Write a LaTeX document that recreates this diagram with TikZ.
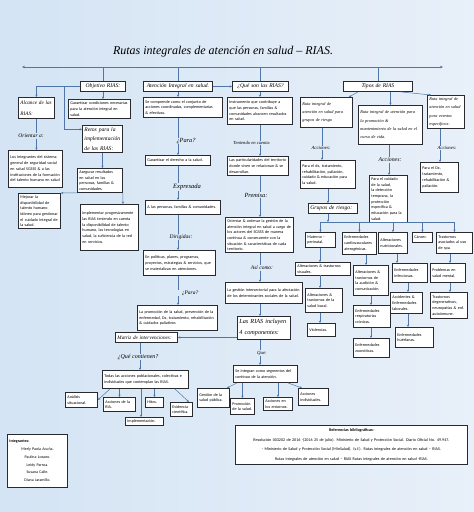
\documentclass[tikz,border=0pt]{standalone}
\usepackage{fontspec}
\setmainfont{Liberation Serif}
\newfontfamily\cuerpo{Carlito}
\usetikzlibrary{arrows.meta}

\hyphenpenalty=10000
\exhyphenpenalty=10000
\hbadness=10000

\definecolor{azul}{RGB}{79,118,168}
\definecolor{borde}{RGB}{40,42,48}
\definecolor{fondoA}{RGB}{212,228,244}
\definecolor{fondoB}{RGB}{232,240,249}

\tikzset{
  caja/.style 2 args={draw=borde, line width=0.9pt, fill=white, anchor=north west,
    inner sep=2pt, text width=#1pt, minimum height=#2pt, align=left,
    font=\cuerpo\fontsize{4.1}{5.7}\selectfont},
  titulo/.style 2 args={caja={#1}{#2}, font=\itshape\fontsize{5.6}{6.6}\selectfont},
  ruta/.style 2 args={caja={#1}{#2}, font=\itshape\fontsize{4.3}{8.3}\selectfont},
  etiqueta/.style={inner sep=0.5pt, font=\itshape\fontsize{5.5}{6.5}\selectfont},
  linea/.style={draw=azul, line width=0.5pt},
  flecha/.style={linea, -{Stealth[length=2.4pt, width=2.2pt]}},
}

\begin{document}
\begin{tikzpicture}[x=1pt, y=-1pt]
  \shade[left color=fondoA, middle color=white, right color=fondoB] (0,0) rectangle (474,512);
  \useasboundingbox (0,0) rectangle (474,512);

  \node[font=\itshape\fontsize{12}{14}\selectfont] (titulo) at (223,52) {Rutas integrales de atención en salud – RIAS.};

  \coordinate (izq) at (22,67);
  \coordinate (der) at (443,67);
  \draw[linea, line width=0.8pt, {Stealth[length=3pt, width=2.6pt]}-{Stealth[length=3pt, width=2.6pt]}] (izq) -- (der);

  \node[titulo={41}{10}, align=center] (obj) at (80,81) {Objetivo RIAS:};
  \node[titulo={65}{10}, align=center] (aten) at (143,81) {Atención Integral en salud.};
  \node[titulo={52}{10}, align=center] (que) at (232,81) {¿Qué son las RIAS?};
  \node[titulo={65}{10}, align=center] (tipos) at (343,81) {Tipos de RIAS};

  \foreach \n in {obj, aten, que, tipos} {
    \draw[linea] (\n.north |- izq) -- (\n.north);
  }

  \node[titulo={32}{21}, font=\itshape\fontsize{5.2}{11}\selectfont] (alcance) at (18,97) {Alcance de las\\ RIAS:};
  \node[caja={58}{19}] (garant) at (68,99) {Garantizar condiciones necesarias para la atención integral en salud.};
  \node[titulo={36}{27}, font=\itshape\fontsize{5.6}{9.5}\selectfont] (retos) at (82,125) {Retos para la\\ implementación\\ de las RIAS:};
  \node[etiqueta] (orient) at (31,136) {Orientar a:};
  \node[caja={50}{37}] (integr) at (8,150) {Los integrantes del sistema general de seguridad social en salud SGSSS \& a las instituciones de la formación del talento humano en salud};
  \node[caja={41}{19}] (asegurar) at (77,168) {Asegurar resultados en salud en las personas, familias \& comunidades.};
  \node[caja={38}{32}] (mejorar) at (18,193) {Mejorar la disponibilidad de talento humano idóneo para gestionar el cuidado integral de la salud.};
  \node[caja={54}{46}] (implementar) at (80,204) {Implementar progresivamente las RIAS teniendo en cuenta la disponibilidad de talento humano, las tecnologías en salud, la suficiencia de la red en servicios.};

  \coordinate (codo) at (64,86);
  \draw[flecha] (obj.west) -| (alcance.north);
  \draw[flecha] (codo) |- (retos.155);
  \draw[flecha] (obj) -- (obj |- garant.north);
  \draw[linea] (alcance.south) -- (orient.north -| alcance.south);
  \draw[flecha] (orient.south -| alcance) -- (integr.north -| alcance);
  \draw[flecha] (retos) -- (retos |- asegurar.north);
  \draw[flecha] (asegurar.south west) -- (mejorar.north east);
  \draw[flecha] (asegurar.south east) -- (implementar.60);

  \node[caja={75}{20}] (secomp) at (143,97) {Se comprende como el conjunto de acciones coordinadas, complementarias \& efectivas.};
  \node[etiqueta, font=\itshape\fontsize{6.3}{7}\selectfont] (para1) at (186,141) {¿Para?};
  \node[caja={61}{10}] (derecho) at (145,155) {Garantizar el derecho a la salud.};
  \node[etiqueta, font=\itshape\fontsize{6.5}{7}\selectfont] (expresada) at (187,187) {Expresada};
  \node[caja={71}{14}] (personas) at (145,200) {A las personas, familias \& comunidades.};
  \node[etiqueta] (dirigidas) at (181,237) {Dirigidas:};
  \node[caja={68}{25}] (politicas) at (143,250) {En políticas, planes, programas, proyectos, estrategias \& servicios, que se materializan en atenciones.};
  \node[etiqueta] (para2) at (190,293) {¿Para?};
  \node[caja={76}{25}] (promo) at (137,305) {La promoción de la salud, prevención de la enfermedad, Dx, tratamiento, rehabilitación \& cuidados paliativos};
  \node[titulo={58}{10}, font=\itshape\fontsize{5.2}{6.5}\selectfont] (matriz) at (115,332) {Matriz de intervenciones:};
  \node[etiqueta, font=\itshape\fontsize{6}{7}\selectfont] (contienen) at (138,357) {¿Qué contienen?};
  \node[caja={82}{18}] (todas) at (102,370) {Todas las acciones poblacionales, colectivas e individuales que contemplan las RIAS.};
  \node[caja={28}{15}] (analisis) at (65,392) {Análisis situacional.};
  \node[caja={28}{14}] (accrias) at (103,397) {Acciones de la RIA.};
  \node[caja={14}{10}] (hitos) at (145,397) {Hitos.};
  \node[caja={34}{8}] (implem) at (125,417) {Implementación.};
  \node[caja={18}{14}] (evidencia) at (170,402) {Evidencia científica.};

  \coordinate (ejeA) at (178,0);
  \coordinate (ejeC) at (140,0);
  \coordinate (ejeD) at (141,0);
  \draw[flecha] (aten.south -| ejeA) -- (secomp.north -| ejeA);
  \foreach \a/\b in {secomp/para1, derecho/expresada, personas/dirigidas, politicas/para2} {
    \draw[linea] (\a.south -| ejeA) -- (\b.north -| ejeA);
  }
  \foreach \a/\b in {para1/derecho, expresada/personas, dirigidas/politicas, para2/promo} {
    \draw[flecha] (\a.south -| ejeA) -- (\b.north -| ejeA);
  }
  \draw[linea] (matriz.south -| ejeC) -- (contienen.north -| ejeC);
  \draw[flecha] (contienen.south -| ejeC) -- (todas.north -| ejeC);
  \draw[flecha] ([xshift=8pt]todas.south west) -- (analisis.east);
  \draw[flecha] (todas.south -| accrias) -- (accrias.north);
  \draw[flecha] (todas.south -| hitos) -- (hitos.north);
  \draw[flecha] (todas.south -| ejeD) -- (implem.north -| ejeD);
  \draw[flecha] ([xshift=-14pt]todas.south east) -- ([xshift=-4pt]evidencia.north east);

  \node[caja={61}{27}] (instrum) at (227,97) {Instrumento que contribuye a que las personas, familias \& comunidades alcancen resultados en salud.};
  \node[etiqueta, font=\itshape\fontsize{4.6}{5.5}\selectfont] (teniendo) at (252,143) {Teniendo en cuenta:};
  \node[caja={57}{19}] (particul) at (227,156) {Las particularidades del territorio donde viven se relacionan \& se desarrollan.};
  \node[etiqueta, font=\itshape\fontsize{6.3}{7}\selectfont] (premisa) at (256,195) {Premisa:};
  \node[caja={64}{34}] (orientarord) at (225,217) {Orientar \& ordenar la gestión de la atención integral en salud a cargo de los actores del SGSSS de manera continua \& consecuente con la situación \& características de cada territorio.};
  \node[etiqueta] (asicomo) at (262,268) {Así como:};
  \node[caja={73}{21}] (gestionint) at (225,282) {La gestión intersectorial para la afectación de los determinantes sociales de la salud.};
  \node[titulo={49}{23}, font=\itshape\fontsize{6.2}{11}\selectfont] (incluyen) at (237,316) {Las RIAS incluyen\\ 4 componentes:};
  \node[etiqueta, font=\itshape\fontsize{4.8}{6}\selectfont] (quelab) at (262,353) {Que:};
  \node[caja={60}{17}] (integran) at (233,365) {Se integran como segmentos del continuo de la atención.};
  \node[caja={28}{19}] (gestsp) at (197,388) {Gestión de la salud pública.};
  \node[caja={20}{16}] (promsal) at (230,398) {Promoción de la salud.};
  \node[caja={25}{13}] (entornos) at (263,397) {Acciones en los entornos.};
  \node[caja={26}{17}] (individ) at (298,388) {Acciones individuales.};

  \coordinate (ejeB) at (260,0);
  \draw[flecha] (aten) -- (que);
  \foreach \a/\b in {instrum/teniendo, particul/premisa, orientarord/asicomo, incluyen/quelab} {
    \draw[linea] (\a.south -| ejeB) -- (\b.north -| ejeB);
  }
  \foreach \a/\b in {que/instrum, teniendo/particul, premisa/orientarord, asicomo/gestionint, gestionint/incluyen, quelab/integran} {
    \draw[flecha] (\a.south -| ejeB) -- (\b.north -| ejeB);
  }
  \draw[flecha] (incluyen.west |- matriz.east) -- (matriz.east);
  \draw[flecha] ([xshift=4pt]integran.south west) -- ([xshift=-3pt]gestsp.north east);
  \draw[flecha] (integran.south -| promsal) -- (promsal.north);
  \draw[flecha] (integran.south -| entornos) -- (entornos.north);
  \draw[flecha] ([xshift=-10pt]integran.south east) -- ([xshift=4pt]individ.north west);

  \node[ruta={48}{30}] (rgr) at (300,97) {Ruta integral de\\ atención en salud para\\ grupos de riesgo};
  \node[ruta={60}{39}] (rpm) at (358,105) {Ruta integral de atención para\\ la promoción \&\\ mantenimiento de la salud en el\\ curso de vida.};
  \node[ruta={33}{33}] (rev) at (427,95) {Ruta integral de\\ atención en salud\\ para eventos\\ específicos:};
  \node[etiqueta, font=\itshape\fontsize{4.8}{6}\selectfont] (acc1) at (321,148) {Acciones:};
  \node[etiqueta, font=\itshape\fontsize{5.8}{7}\selectfont] (acc2) at (390,160) {Acciones:};
  \node[etiqueta, font=\itshape\fontsize{4.8}{6}\selectfont] (acc3) at (447,148) {Acciones:};
  \node[caja={51}{28}] (accbox1) at (300,160) {Para el dx, tratamiento, rehabilitación, paliación, cuidado \& educación para la salud.};
  \node[caja={34}{40}] (accbox2) at (369,175) {Para el cuidado de la salud, la detección temprana, la protección específica \& educación para la salud.};
  \node[caja={34}{30}] (accbox3) at (420,162) {Para el Dx, tratamiento, rehabilitación \& paliación.};
  \node[titulo={45}{10}] (grupos) at (308,203) {Grupos de riesgo:};

  \draw[flecha] ([xshift=15pt]tipos.south west) -- ([xshift=-4pt]rgr.north east);
  \draw[flecha] (tipos.south -| rpm.north) -- (rpm.north);
  \draw[flecha] ([xshift=-12pt]tipos.south east) -- ([xshift=4pt]rev.north west);

  \coordinate (ejeE) at (322,0);
  \coordinate (ejeF) at (389,0);
  \coordinate (ejeG) at (440,0);
  \foreach \e/\r/\l/\b in {ejeE/rgr/acc1/accbox1, ejeF/rpm/acc2/accbox2, ejeG/rev/acc3/accbox3} {
    \draw[linea] (\r.south -| \e) -- (\l.north -| \e);
    \draw[flecha] (\l.south -| \e) -- (\b.north -| \e);
  }
  \draw[flecha] (accbox1) -- (accbox1 |- grupos.north);

  \node[caja={26}{15}] (materno) at (305,232) {Materno - perinatal.};
  \node[caja={30}{22}] (cardio) at (342,232) {Enfermedades cardiovasculares aterogénicas.};
  \node[caja={25}{21}] (nutri) at (378,232) {Alteraciones nutricionales.};
  \node[caja={16}{10}] (cancer) at (412,232) {Cáncer.};
  \node[caja={32}{21}] (spa) at (436,232) {Trastornos asociados al uso de spa.};
  \node[caja={51}{11}] (visual) at (295,262) {Alteraciones \& trastornos visuales.};
  \node[caja={31}{30}] (audicion) at (353,265) {Alteraciones \& trastornos de la audición \& comunicación.};
  \node[caja={31}{19}] (infecc) at (392,263) {Enfermedades infecciosas.};
  \node[caja={31}{19}] (mental) at (430,263) {Problemas en salud mental.};
  \node[caja={33}{24}] (bucal) at (305,288) {Alteraciones \& trastornos de la salud bucal.};
  \node[caja={33}{22}] (respir) at (353,305) {Enfermedades respiratorias crónicas.};
  \node[caja={28}{21}] (laboral) at (390,292) {Accidentes \& Enfermedades laborales.};
  \node[caja={33}{26}] (degener) at (430,292) {Trastornos degenerativos, neuropatías \& enf. autoinmune.};
  \node[caja={24}{13}] (violencia) at (307,323) {Violencias.};
  \node[caja={32}{19}] (zoono) at (353,338) {Enfermedades zoonóticas.};
  \node[caja={34}{20}] (huerf) at (395,327) {Enfermedades huérfanas.};

  \coordinate (busI) at (320,222);
  \coordinate (busD) at (454,222);
  \draw[linea] (busI) -- (busD);
  \draw[flecha] (grupos.south -| accbox1) -- (accbox1 |- busI);
  \foreach \n in {materno, cardio, nutri, cancer, spa} {
    \draw[flecha] (\n.north |- busI) -- (\n.north);
  }

  \coordinate (c1) at (320,0);
  \coordinate (c2) at (366,0);
  \coordinate (c2b) at (371,0);
  \coordinate (c3) at (397,0);
  \coordinate (c3b) at (408,0);
  \coordinate (c4) at (450,0);
  \foreach \a/\b/\c in {materno/visual/c1, visual/bucal/c1, bucal/violencia/c1,
      cardio/audicion/c2, audicion/respir/c2b, respir/zoono/c2b,
      nutri/infecc/c3, infecc/laboral/c3b, laboral/huerf/c3b,
      spa/mental/c4, mental/degener/c4} {
    \draw[flecha] (\a.south -| \c) -- (\b.north -| \c);
  }

  \node[caja={56}{53}, align=center, font=\cuerpo\fontsize{4}{7.8}\selectfont] (integrantes) at (7,434) {\makebox[56pt][l]{\bfseries Integrantes:}\\ Merly Paola Acuña.\\ Paulina Lozano.\\ Leidy Parroa.\\ Susana Calle.\\ Diana Jaramillo.};
  \node[caja={228}{39}, align=center, font=\cuerpo\fontsize{4.1}{9.5}\selectfont] (refs) at (235,425) {{\bfseries Referencias bibliográficas:}\\ Resolución 003202 de 2016 -(2016 25 de julio). Ministerio de Salud y Protección Social. Diario Oficial No. 49.947.\\ - Ministerio de Salud y Protección Social (MinSalud). (s.f.). Rutas integrales de atención en salud – RIAS.\\ Rutas integrales de atención en salud – RIAS Rutas integrales de atención en salud -RIAS.};
\end{tikzpicture}
\end{document}
